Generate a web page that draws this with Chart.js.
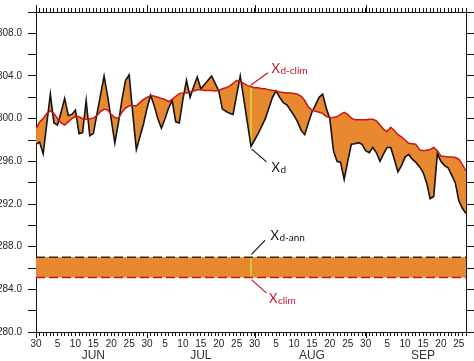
<!DOCTYPE html>
<html><head><meta charset="utf-8">
<script src="https://cdn.jsdelivr.net/npm/chart.js@4.4.1/dist/chart.umd.min.js"></script>
<style>html,body{margin:0;padding:0;background:#fff;}canvas{display:block;}</style>
</head><body>
<canvas id="c" width="474" height="361" style="width:474px;height:361px"></canvas>
<script>
// Day index 0 = 30 May
const xd = [
297.6,297.8,296.7,299.5,302.3,299.6,299.4,300.6,301.9,300.3,
300.4,300.8,298.6,298.7,301.7,298.4,298.6,300.4,302.2,304.0,
302.1,299.9,297.7,299.6,301.8,303.6,304.1,300.5,297.1,298.3,
299.5,301.0,302.2,301.2,300.0,299.1,300.0,301.0,301.7,299.7,
299.6,301.8,303.6,302.0,303.0,303.9,302.8,303.2,303.6,304.0,
303.3,302.6,300.9,300.7,300.5,300.4,302.2,304.0,301.8,299.6,
297.4,298.0,298.6,299.3,300.0,301.0,302.0,302.6,302.0,301.5,
301.3,300.8,300.3,299.7,298.9,298.5,299.6,300.6,301.3,302.0,
302.3,301.0,300.0,297.0,296.0,295.9,294.3,296.0,297.6,297.65,
297.75,297.6,297.0,296.8,297.3,296.8,296.0,296.7,297.3,297.3,
296.2,295.0,295.6,296.4,296.65,296.2,295.9,295.5,295.0,294.0,
292.5,292.7,296.7,296.0,295.6,295.4,294.7,294.0,292.3,291.6,
291.1];
const xdClim = [
299.1,299.7,300.0,300.5,300.7,300.5,300.0,299.6,299.4,299.7,
300.0,300.2,300.2,300.0,299.95,300.0,300.05,300.3,300.66,300.9,
300.8,300.4,300.1,300.05,300.6,301.0,301.2,301.2,301.2,301.5,
301.8,302.0,302.2,302.1,302.0,301.9,301.8,301.6,301.8,302.1,
302.35,302.4,302.4,302.5,302.6,302.7,302.7,302.65,302.65,302.65,
302.6,302.65,302.8,302.9,303.05,303.3,303.6,303.5,303.3,303.1,
303.0,302.9,302.9,302.8,302.8,302.7,302.65,302.6,302.5,302.45,
302.4,302.4,302.35,302.3,302.1,301.7,301.1,300.8,300.7,300.6,
300.5,300.2,300.1,300.1,300.2,300.4,300.6,300.4,300.05,299.9,
299.9,299.9,299.9,299.95,299.95,299.8,299.4,299.0,298.8,299.2,
298.9,298.5,298.3,298.0,297.7,297.65,297.6,297.1,297.0,297.05,
297.1,297.3,297.0,296.5,296.45,296.4,296.4,296.35,296.2,295.7,
295.1];
const xdAnn = 287.0;
const xClim = 285.1;
const markDay = 60;
const tickDays   = [0,6,11,16,21,26,31,36,41,46,51,56,61,67,72,77,82,87,92,98,103,108,113,118];
const tickLabels = ['30','5','10','15','20','25','30','5','10','15','20','25','30','5','10','15','20','25','30','5','10','15','20','25'];
const majorTickDays = [0,31,61,92];
const monthDays   = [16,46,77,108];
const monthLabels = ['JUN','JUL','AUG','SEP'];
const yMin = 280, yMax = 310, yStep = 2, yLabelStep = 4;

const dayIdx = xd.map((_, i) => i);
const lastDay = dayIdx[dayIdx.length - 1];
const pts = arr => arr.map((v, i) => ({x: dayIdx[i], y: v}));

const ORANGE = '#e8892f';
const RED = '#c8161c';
const RED_T = '#c0142c';
const BLACK = '#141414';
const YELLOW = '#cfdc3a';
const tickFont = {family: "'Liberation Sans', Arial, sans-serif", size: 10};

const dailyTicks = s => { s.ticks = dayIdx.map(v => ({value: v})); };

const annot = {
  id: 'annot',
  afterDatasetsDraw(chart) {
    const ctx = chart.ctx, xs = chart.scales.x, ys = chart.scales.y, area = chart.chartArea;
    const ax = xs.getPixelForValue(markDay);
    const yC = ys.getPixelForValue(xdClim[markDay]);
    const yD = ys.getPixelForValue(xd[markDay]);
    const yA = ys.getPixelForValue(xdAnn);
    const yK = ys.getPixelForValue(xClim);
    ctx.save();
    const lead = (x1, y1, x2, y2, c) => { ctx.beginPath(); ctx.moveTo(x1, y1); ctx.lineTo(x2, y2); ctx.strokeStyle = c; ctx.lineWidth = 1.2; ctx.stroke(); };
    const label = (sub, x, y, c) => {
      ctx.fillStyle = c; ctx.textBaseline = 'alphabetic'; ctx.textAlign = 'left';
      ctx.font = '13px Lato'; ctx.fillText('X', x, y);
      const w = ctx.measureText('X').width;
      ctx.font = '10px Lato'; ctx.fillText(sub, x + w + 0.5, y + 1);
    };
    lead(ax - 0.5, yC - 1.5, ax + 17, yC - 14, RED);   label('d-clim', ax + 20.5, yC - 13.5, RED_T);
    lead(ax + 0.5, yD + 2.5, ax + 15.5, yD + 15.5, BLACK); label('d', ax + 20.5, yD + 25.5, BLACK);
    lead(ax + 0.5, yA - 3, ax + 14, yA - 17, BLACK);   label('d-ann', ax + 19.5, yA - 17, BLACK);
    lead(ax + 0.5, yK + 2, ax + 15.5, yK + 15.5, RED); label('clim', ax + 18, yK + 25, RED_T);
    // longer month-end ticks on top and bottom axes
    ctx.strokeStyle = BLACK; ctx.lineWidth = 1;
    majorTickDays.forEach(d => {
      const px = Math.round(xs.getPixelForValue(d)) + 0.5;
      ctx.beginPath();
      ctx.moveTo(px, area.top); ctx.lineTo(px, area.top - 7);
      ctx.moveTo(px, area.bottom); ctx.lineTo(px, area.bottom + 6);
      ctx.stroke();
    });
    ctx.restore();
  }
};

new Chart(document.getElementById('c'), {
  type: 'line',
  data: { datasets: [
    {label: 'Xd', data: pts(xd), borderColor: BLACK, borderWidth: 1.6, backgroundColor: ORANGE, fill: 1, order: 1},
    {label: 'Xd-clim', data: pts(xdClim), borderColor: RED, borderWidth: 1.5, fill: false, order: 0},
    {label: 'markTop', data: [{x: markDay, y: xd[markDay]}, {x: markDay, y: xdClim[markDay]}], borderColor: YELLOW, borderWidth: 1.5, fill: false, order: 2},
    {label: 'Xd-ann', data: [{x: 0, y: xdAnn}, {x: lastDay, y: xdAnn}], borderColor: '#3a2418', borderDash: [9, 4], borderWidth: 1.5, backgroundColor: ORANGE, fill: 4, order: 0},
    {label: 'Xclim', data: [{x: 0, y: xClim}, {x: lastDay, y: xClim}], borderColor: RED, borderDash: [9, 4], borderWidth: 1.5, fill: false, order: 0},
    {label: 'markBot', data: [{x: markDay, y: xClim}, {x: markDay, y: xdAnn}], borderColor: YELLOW, borderWidth: 1.5, fill: false, order: 2}
  ]},
  options: {
    responsive: false, animation: false, devicePixelRatio: 1,
    layout: {padding: 0},
    elements: {point: {radius: 0}, line: {tension: 0}},
    plugins: {legend: {display: false}, tooltip: {enabled: false}, filler: {drawTime: 'beforeDatasetsDraw'}},
    scales: {
      x: {type: 'linear', position: 'bottom', min: 0, max: lastDay,
        afterBuildTicks: dailyTicks, afterFit: s => { s.height = 16; },
        grid: {display: true, drawOnChartArea: false, drawTicks: true, tickLength: 4, color: BLACK, lineWidth: 1},
        border: {display: true, color: BLACK, width: 1},
        ticks: {autoSkip: false, maxRotation: 0, minRotation: 0, padding: 2, color: '#222', font: tickFont,
          callback: v => { const k = tickDays.indexOf(v); return k >= 0 ? tickLabels[k] : ''; }}
      },
      xm: {type: 'linear', position: 'bottom', weight: 1, min: 0, max: lastDay,
        afterBuildTicks: s => { s.ticks = monthDays.map(v => ({value: v})); },
        afterFit: s => { s.height = 13; },
        grid: {display: false, drawTicks: false}, border: {display: false},
        ticks: {autoSkip: false, maxRotation: 0, minRotation: 0, padding: 0, color: '#333',
          font: {family: "'Liberation Sans', Arial, sans-serif", size: 12},
          callback: v => { const k = monthDays.indexOf(v); return k >= 0 ? monthLabels[k] : ''; }}
      },
      xt: {type: 'linear', position: 'top', min: 0, max: lastDay,
        afterBuildTicks: dailyTicks, afterFit: s => { s.height = 7; },
        grid: {display: true, drawOnChartArea: false, drawTicks: true, tickLength: 4, color: BLACK},
        border: {display: true, color: BLACK},
        ticks: {display: false, autoSkip: false}
      },
      y: {type: 'linear', position: 'left', min: yMin, max: yMax,
        afterFit: s => { s.width = 36; },
        grid: {display: true, drawOnChartArea: false, drawTicks: true, tickLength: 8, color: BLACK},
        border: {display: true, color: BLACK},
        ticks: {stepSize: yStep, autoSkip: false, padding: 6, color: '#222', font: tickFont,
          callback: v => (Math.round(v) % yLabelStep === 0 ? Number(v).toFixed(1) : '')}
      },
      y2: {type: 'linear', position: 'right', min: yMin, max: yMax,
        afterFit: s => { s.width = 8; },
        grid: {display: true, drawOnChartArea: false, drawTicks: true, tickLength: 8, color: BLACK},
        border: {display: true, color: BLACK},
        ticks: {stepSize: yStep, display: false, autoSkip: false}
      }
    }
  },
  plugins: [annot]
});
</script>
</body></html>
